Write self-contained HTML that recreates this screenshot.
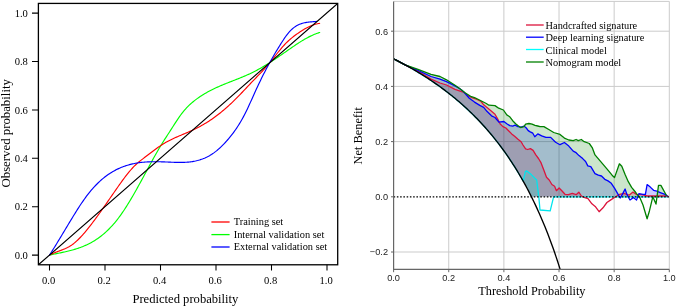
<!DOCTYPE html>
<html><head><meta charset="utf-8"><style>
html,body{margin:0;padding:0;background:#fff;width:676px;height:307px;overflow:hidden}
svg{display:block;will-change:transform}
</style></head><body>
<svg width="676" height="307" viewBox="0 0 676 307">
<defs>
<clipPath id="cl"><rect x="38.40" y="3.42" width="299.30" height="261.36"/></clipPath>
<clipPath id="cr"><path d="M393.60,58.80 L394.98,59.49 L396.36,60.19 L397.74,60.90 L399.11,61.62 L400.49,62.34 L401.87,63.07 L403.25,63.81 L404.63,64.55 L406.01,65.30 L407.38,66.06 L408.76,66.83 L410.14,67.61 L411.52,68.39 L412.90,69.19 L414.28,69.99 L415.66,70.80 L417.03,71.62 L418.41,72.45 L419.79,73.29 L421.17,74.13 L422.55,74.99 L423.93,75.86 L425.31,76.73 L426.68,77.62 L428.06,78.51 L429.44,79.42 L430.82,80.34 L432.20,81.27 L433.58,82.20 L434.96,83.15 L436.33,84.11 L437.71,85.09 L439.09,86.07 L440.47,87.07 L441.85,88.07 L443.23,89.09 L444.60,90.13 L445.98,91.17 L447.36,92.23 L448.74,93.30 L450.12,94.38 L451.50,95.48 L452.88,96.60 L454.25,97.72 L455.63,98.86 L457.01,100.02 L458.39,101.19 L459.77,102.38 L461.15,103.58 L462.52,104.80 L463.90,106.03 L465.28,107.29 L466.66,108.56 L468.04,109.84 L469.42,111.14 L470.80,112.47 L472.17,113.81 L473.55,115.17 L474.93,116.54 L476.31,117.94 L477.69,119.36 L479.07,120.80 L480.45,122.26 L481.82,123.74 L483.20,125.24 L484.58,126.77 L485.96,128.32 L487.34,129.89 L488.72,131.49 L490.10,133.11 L491.47,134.75 L492.85,136.42 L494.23,138.12 L495.61,139.85 L496.99,141.60 L498.37,143.38 L499.74,145.19 L501.12,147.03 L502.50,148.90 L503.88,150.80 L505.26,152.73 L506.64,154.70 L508.02,156.70 L509.39,158.73 L510.77,160.80 L512.15,162.91 L513.53,165.05 L514.91,167.23 L516.29,169.45 L517.66,171.71 L519.04,174.01 L520.42,176.36 L521.80,178.74 L523.18,181.18 L524.56,183.66 L525.94,186.18 L527.31,188.76 L528.69,191.39 L530.07,194.07 L531.45,196.80 L532.83,196.80 L534.21,196.80 L535.59,196.80 L536.96,196.80 L538.34,196.80 L539.72,196.80 L541.10,196.80 L542.48,196.80 L543.86,196.80 L545.24,196.80 L546.61,196.80 L547.99,196.80 L549.37,196.80 L550.75,196.80 L552.13,196.80 L553.51,196.80 L554.88,196.80 L556.26,196.80 L557.64,196.80 L559.02,196.80 L560.40,196.80 L561.78,196.80 L563.16,196.80 L564.53,196.80 L565.91,196.80 L567.29,196.80 L568.67,196.80 L570.05,196.80 L571.43,196.80 L572.80,196.80 L574.18,196.80 L575.56,196.80 L576.94,196.80 L578.32,196.80 L579.70,196.80 L581.08,196.80 L582.45,196.80 L583.83,196.80 L585.21,196.80 L586.59,196.80 L587.97,196.80 L589.35,196.80 L590.73,196.80 L592.10,196.80 L593.48,196.80 L594.86,196.80 L596.24,196.80 L597.62,196.80 L599.00,196.80 L600.38,196.80 L601.75,196.80 L603.13,196.80 L604.51,196.80 L605.89,196.80 L607.27,196.80 L608.65,196.80 L610.02,196.80 L611.40,196.80 L612.78,196.80 L614.16,196.80 L615.54,196.80 L616.92,196.80 L618.30,196.80 L619.67,196.80 L621.05,196.80 L622.43,196.80 L623.81,196.80 L625.19,196.80 L626.57,196.80 L627.94,196.80 L629.32,196.80 L630.70,196.80 L632.08,196.80 L633.46,196.80 L634.84,196.80 L636.22,196.80 L637.59,196.80 L638.97,196.80 L640.35,196.80 L641.73,196.80 L643.11,196.80 L644.49,196.80 L645.87,196.80 L647.24,196.80 L648.62,196.80 L650.00,196.80 L651.38,196.80 L652.76,196.80 L654.14,196.80 L655.51,196.80 L656.89,196.80 L658.27,196.80 L659.65,196.80 L661.03,196.80 L662.41,196.80 L663.79,196.80 L665.16,196.80 L666.54,196.80 L667.92,196.80 L669.30,196.80 L669.30,0.00 L393.60,0.00 Z"/></clipPath>
<clipPath id="cb"><rect x="393.60" y="1.40" width="275.70" height="268.00"/></clipPath>
</defs>
<rect width="676" height="307" fill="#fff"/>
<g clip-path="url(#cl)" fill="none" stroke-width="1.15" stroke-linejoin="round" stroke-linecap="round">
<path d="M49.50,255.10 L50.50,254.88 L51.50,254.67 L52.50,254.46 L53.50,254.25 L54.50,254.05 L55.50,253.84 L56.50,253.64 L57.50,253.43 L58.50,253.23 L59.50,253.02 L60.50,252.82 L61.50,252.61 L62.50,252.40 L63.50,252.18 L64.50,251.96 L65.50,251.74 L66.50,251.51 L67.50,251.27 L68.50,251.03 L69.50,250.79 L70.50,250.53 L71.50,250.27 L72.50,249.99 L73.50,249.71 L74.50,249.42 L75.50,249.12 L76.50,248.81 L77.50,248.48 L78.50,248.15 L79.50,247.80 L80.50,247.44 L81.50,247.06 L82.50,246.67 L83.50,246.26 L84.50,245.84 L85.50,245.40 L86.50,244.95 L87.50,244.48 L88.50,243.99 L89.50,243.48 L90.50,242.95 L91.50,242.40 L92.50,241.84 L93.50,241.25 L94.50,240.64 L95.50,240.00 L96.50,239.35 L97.50,238.67 L98.50,237.97 L99.50,237.24 L100.50,236.49 L101.50,235.71 L102.50,234.91 L103.50,234.08 L104.50,233.22 L105.50,232.34 L106.50,231.42 L107.50,230.48 L108.50,229.51 L109.50,228.50 L110.50,227.47 L111.50,226.40 L112.50,225.31 L113.50,224.18 L114.50,223.01 L115.50,221.81 L116.50,220.58 L117.50,219.32 L118.50,218.01 L119.50,216.68 L120.50,215.30 L121.50,213.89 L122.50,212.45 L123.50,210.97 L124.50,209.46 L125.50,207.92 L126.50,206.36 L127.50,204.76 L128.50,203.14 L129.50,201.50 L130.50,199.83 L131.50,198.15 L132.50,196.44 L133.50,194.71 L134.50,192.96 L135.50,191.20 L136.50,189.43 L137.50,187.64 L138.50,185.83 L139.50,184.02 L140.50,182.20 L141.50,180.37 L142.50,178.53 L143.50,176.69 L144.50,174.85 L145.50,173.00 L146.50,171.15 L147.50,169.30 L148.50,167.45 L149.50,165.61 L150.50,163.77 L151.50,161.94 L152.50,160.12 L153.50,158.31 L154.50,156.52 L155.50,154.73 L156.50,152.97 L157.50,151.22 L158.50,149.50 L159.50,147.80 L160.50,146.12 L161.50,144.47 L162.50,142.84 L163.50,141.25 L164.50,139.68 L165.50,138.12 L166.50,136.58 L167.50,135.05 L168.50,133.51 L169.50,131.97 L170.50,130.43 L171.50,128.87 L172.50,127.30 L173.50,125.73 L174.50,124.17 L175.50,122.62 L176.50,121.09 L177.50,119.59 L178.50,118.11 L179.50,116.67 L180.50,115.27 L181.50,113.93 L182.50,112.63 L183.50,111.39 L184.50,110.20 L185.50,109.06 L186.50,107.97 L187.50,106.92 L188.50,105.92 L189.50,104.95 L190.50,104.02 L191.50,103.13 L192.50,102.27 L193.50,101.44 L194.50,100.64 L195.50,99.87 L196.50,99.12 L197.50,98.39 L198.50,97.68 L199.50,96.99 L200.50,96.31 L201.50,95.66 L202.50,95.02 L203.50,94.40 L204.50,93.80 L205.50,93.21 L206.50,92.63 L207.50,92.07 L208.50,91.52 L209.50,90.99 L210.50,90.47 L211.50,89.96 L212.50,89.46 L213.50,88.97 L214.50,88.49 L215.50,88.03 L216.50,87.57 L217.50,87.12 L218.50,86.67 L219.50,86.24 L220.50,85.81 L221.50,85.38 L222.50,84.96 L223.50,84.55 L224.50,84.14 L225.50,83.74 L226.50,83.34 L227.50,82.94 L228.50,82.54 L229.50,82.15 L230.50,81.76 L231.50,81.36 L232.50,80.97 L233.50,80.58 L234.50,80.19 L235.50,79.80 L236.50,79.40 L237.50,79.01 L238.50,78.61 L239.50,78.21 L240.50,77.80 L241.50,77.39 L242.50,76.98 L243.50,76.56 L244.50,76.14 L245.50,75.70 L246.50,75.27 L247.50,74.82 L248.50,74.37 L249.50,73.91 L250.50,73.44 L251.50,72.96 L252.50,72.48 L253.50,71.98 L254.50,71.47 L255.50,70.95 L256.50,70.42 L257.50,69.88 L258.50,69.33 L259.50,68.78 L260.50,68.21 L261.50,67.63 L262.50,67.05 L263.50,66.45 L264.50,65.85 L265.50,65.24 L266.50,64.62 L267.50,64.00 L268.50,63.37 L269.50,62.73 L270.50,62.09 L271.50,61.44 L272.50,60.78 L273.50,60.12 L274.50,59.46 L275.50,58.79 L276.50,58.11 L277.50,57.44 L278.50,56.75 L279.50,56.07 L280.50,55.38 L281.50,54.69 L282.50,54.00 L283.50,53.30 L284.50,52.60 L285.50,51.91 L286.50,51.21 L287.50,50.51 L288.50,49.81 L289.50,49.11 L290.50,48.42 L291.50,47.73 L292.50,47.04 L293.50,46.35 L294.50,45.68 L295.50,45.00 L296.50,44.34 L297.50,43.68 L298.50,43.03 L299.50,42.39 L300.50,41.75 L301.50,41.13 L302.50,40.52 L303.50,39.92 L304.50,39.34 L305.50,38.76 L306.50,38.21 L307.50,37.66 L308.50,37.13 L309.50,36.62 L310.50,36.13 L311.50,35.65 L312.50,35.19 L313.50,34.75 L314.50,34.33 L315.50,33.93 L316.50,33.55 L317.50,33.20 L318.50,32.87 L319.50,32.56 L319.70,32.50" stroke="#00ff00"/>
<path d="M49.50,255.10 L50.50,254.58 L51.50,254.09 L52.50,253.62 L53.50,253.19 L54.50,252.77 L55.50,252.37 L56.50,251.99 L57.50,251.61 L58.50,251.24 L59.50,250.87 L60.50,250.50 L61.50,250.13 L62.50,249.74 L63.50,249.34 L64.50,248.92 L65.50,248.48 L66.50,248.01 L67.50,247.51 L68.50,246.98 L69.50,246.41 L70.50,245.80 L71.50,245.15 L72.50,244.44 L73.50,243.69 L74.50,242.89 L75.50,242.05 L76.50,241.16 L77.50,240.24 L78.50,239.27 L79.50,238.27 L80.50,237.23 L81.50,236.16 L82.50,235.06 L83.50,233.92 L84.50,232.77 L85.50,231.58 L86.50,230.38 L87.50,229.15 L88.50,227.90 L89.50,226.63 L90.50,225.35 L91.50,224.06 L92.50,222.75 L93.50,221.42 L94.50,220.09 L95.50,218.74 L96.50,217.38 L97.50,216.01 L98.50,214.63 L99.50,213.24 L100.50,211.84 L101.50,210.43 L102.50,209.02 L103.50,207.60 L104.50,206.17 L105.50,204.74 L106.50,203.31 L107.50,201.87 L108.50,200.43 L109.50,198.99 L110.50,197.54 L111.50,196.10 L112.50,194.65 L113.50,193.21 L114.50,191.77 L115.50,190.33 L116.50,188.89 L117.50,187.46 L118.50,186.03 L119.50,184.61 L120.50,183.21 L121.50,181.82 L122.50,180.44 L123.50,179.08 L124.50,177.74 L125.50,176.42 L126.50,175.13 L127.50,173.86 L128.50,172.63 L129.50,171.42 L130.50,170.25 L131.50,169.11 L132.50,168.01 L133.50,166.96 L134.50,165.94 L135.50,164.97 L136.50,164.04 L137.50,163.15 L138.50,162.30 L139.50,161.47 L140.50,160.66 L141.50,159.88 L142.50,159.10 L143.50,158.34 L144.50,157.57 L145.50,156.80 L146.50,156.03 L147.50,155.26 L148.50,154.49 L149.50,153.72 L150.50,152.95 L151.50,152.18 L152.50,151.42 L153.50,150.67 L154.50,149.92 L155.50,149.18 L156.50,148.46 L157.50,147.74 L158.50,147.04 L159.50,146.35 L160.50,145.68 L161.50,145.03 L162.50,144.40 L163.50,143.78 L164.50,143.18 L165.50,142.61 L166.50,142.04 L167.50,141.50 L168.50,140.97 L169.50,140.45 L170.50,139.95 L171.50,139.46 L172.50,138.98 L173.50,138.51 L174.50,138.05 L175.50,137.59 L176.50,137.15 L177.50,136.71 L178.50,136.27 L179.50,135.84 L180.50,135.42 L181.50,134.99 L182.50,134.57 L183.50,134.15 L184.50,133.72 L185.50,133.30 L186.50,132.87 L187.50,132.44 L188.50,132.00 L189.50,131.56 L190.50,131.11 L191.50,130.65 L192.50,130.19 L193.50,129.72 L194.50,129.24 L195.50,128.75 L196.50,128.25 L197.50,127.74 L198.50,127.22 L199.50,126.69 L200.50,126.15 L201.50,125.59 L202.50,125.03 L203.50,124.46 L204.50,123.87 L205.50,123.27 L206.50,122.66 L207.50,122.03 L208.50,121.40 L209.50,120.75 L210.50,120.08 L211.50,119.40 L212.50,118.71 L213.50,118.01 L214.50,117.29 L215.50,116.55 L216.50,115.81 L217.50,115.05 L218.50,114.28 L219.50,113.49 L220.50,112.69 L221.50,111.88 L222.50,111.06 L223.50,110.22 L224.50,109.37 L225.50,108.50 L226.50,107.63 L227.50,106.74 L228.50,105.84 L229.50,104.92 L230.50,103.99 L231.50,103.05 L232.50,102.10 L233.50,101.14 L234.50,100.16 L235.50,99.17 L236.50,98.17 L237.50,97.16 L238.50,96.14 L239.50,95.11 L240.50,94.07 L241.50,93.02 L242.50,91.98 L243.50,90.92 L244.50,89.86 L245.50,88.80 L246.50,87.74 L247.50,86.68 L248.50,85.62 L249.50,84.56 L250.50,83.50 L251.50,82.45 L252.50,81.40 L253.50,80.35 L254.50,79.31 L255.50,78.28 L256.50,77.25 L257.50,76.22 L258.50,75.19 L259.50,74.15 L260.50,73.11 L261.50,72.06 L262.50,71.00 L263.50,69.93 L264.50,68.83 L265.50,67.72 L266.50,66.59 L267.50,65.43 L268.50,64.25 L269.50,63.04 L270.50,61.81 L271.50,60.57 L272.50,59.31 L273.50,58.05 L274.50,56.78 L275.50,55.51 L276.50,54.25 L277.50,52.99 L278.50,51.75 L279.50,50.52 L280.50,49.31 L281.50,48.13 L282.50,46.97 L283.50,45.85 L284.50,44.76 L285.50,43.71 L286.50,42.70 L287.50,41.73 L288.50,40.79 L289.50,39.89 L290.50,39.01 L291.50,38.17 L292.50,37.35 L293.50,36.56 L294.50,35.79 L295.50,35.05 L296.50,34.32 L297.50,33.61 L298.50,32.92 L299.50,32.24 L300.50,31.58 L301.50,30.94 L302.50,30.32 L303.50,29.71 L304.50,29.12 L305.50,28.56 L306.50,28.01 L307.50,27.49 L308.50,27.00 L309.50,26.52 L310.50,26.07 L311.50,25.65 L312.50,25.26 L313.50,24.89 L314.50,24.56 L315.50,24.25 L316.50,23.97 L317.50,23.73 L318.50,23.51 L319.50,23.34 L319.70,23.30" stroke="#ff0000"/>
<path d="M49.50,255.10 L50.50,253.55 L51.50,251.98 L52.50,250.40 L53.50,248.80 L54.50,247.19 L55.50,245.58 L56.50,243.95 L57.50,242.31 L58.50,240.67 L59.50,239.02 L60.50,237.36 L61.50,235.70 L62.50,234.04 L63.50,232.37 L64.50,230.70 L65.50,229.04 L66.50,227.37 L67.50,225.70 L68.50,224.04 L69.50,222.38 L70.50,220.73 L71.50,219.08 L72.50,217.44 L73.50,215.81 L74.50,214.19 L75.50,212.58 L76.50,210.99 L77.50,209.41 L78.50,207.85 L79.50,206.31 L80.50,204.79 L81.50,203.29 L82.50,201.82 L83.50,200.37 L84.50,198.96 L85.50,197.57 L86.50,196.21 L87.50,194.89 L88.50,193.60 L89.50,192.35 L90.50,191.12 L91.50,189.94 L92.50,188.78 L93.50,187.66 L94.50,186.57 L95.50,185.51 L96.50,184.48 L97.50,183.48 L98.50,182.51 L99.50,181.57 L100.50,180.65 L101.50,179.77 L102.50,178.92 L103.50,178.09 L104.50,177.29 L105.50,176.51 L106.50,175.76 L107.50,175.04 L108.50,174.34 L109.50,173.67 L110.50,173.02 L111.50,172.39 L112.50,171.79 L113.50,171.21 L114.50,170.66 L115.50,170.12 L116.50,169.61 L117.50,169.11 L118.50,168.64 L119.50,168.19 L120.50,167.75 L121.50,167.34 L122.50,166.94 L123.50,166.56 L124.50,166.20 L125.50,165.86 L126.50,165.53 L127.50,165.22 L128.50,164.93 L129.50,164.65 L130.50,164.39 L131.50,164.14 L132.50,163.91 L133.50,163.69 L134.50,163.49 L135.50,163.29 L136.50,163.12 L137.50,162.95 L138.50,162.80 L139.50,162.66 L140.50,162.53 L141.50,162.41 L142.50,162.30 L143.50,162.21 L144.50,162.12 L145.50,162.04 L146.50,161.98 L147.50,161.92 L148.50,161.87 L149.50,161.82 L150.50,161.79 L151.50,161.76 L152.50,161.74 L153.50,161.73 L154.50,161.72 L155.50,161.72 L156.50,161.73 L157.50,161.74 L158.50,161.75 L159.50,161.77 L160.50,161.79 L161.50,161.82 L162.50,161.85 L163.50,161.88 L164.50,161.92 L165.50,161.95 L166.50,161.99 L167.50,162.03 L168.50,162.07 L169.50,162.12 L170.50,162.16 L171.50,162.20 L172.50,162.24 L173.50,162.28 L174.50,162.31 L175.50,162.35 L176.50,162.37 L177.50,162.40 L178.50,162.41 L179.50,162.42 L180.50,162.43 L181.50,162.42 L182.50,162.40 L183.50,162.38 L184.50,162.34 L185.50,162.30 L186.50,162.24 L187.50,162.16 L188.50,162.08 L189.50,161.98 L190.50,161.86 L191.50,161.73 L192.50,161.58 L193.50,161.41 L194.50,161.22 L195.50,161.02 L196.50,160.79 L197.50,160.55 L198.50,160.28 L199.50,159.99 L200.50,159.67 L201.50,159.33 L202.50,158.97 L203.50,158.58 L204.50,158.17 L205.50,157.72 L206.50,157.25 L207.50,156.75 L208.50,156.22 L209.50,155.66 L210.50,155.07 L211.50,154.45 L212.50,153.79 L213.50,153.10 L214.50,152.37 L215.50,151.62 L216.50,150.83 L217.50,150.00 L218.50,149.14 L219.50,148.26 L220.50,147.33 L221.50,146.38 L222.50,145.39 L223.50,144.38 L224.50,143.33 L225.50,142.25 L226.50,141.14 L227.50,140.00 L228.50,138.84 L229.50,137.64 L230.50,136.41 L231.50,135.15 L232.50,133.86 L233.50,132.53 L234.50,131.16 L235.50,129.75 L236.50,128.30 L237.50,126.79 L238.50,125.24 L239.50,123.64 L240.50,121.97 L241.50,120.25 L242.50,118.47 L243.50,116.62 L244.50,114.71 L245.50,112.74 L246.50,110.72 L247.50,108.63 L248.50,106.50 L249.50,104.33 L250.50,102.12 L251.50,99.90 L252.50,97.66 L253.50,95.44 L254.50,93.22 L255.50,91.03 L256.50,88.86 L257.50,86.72 L258.50,84.59 L259.50,82.50 L260.50,80.42 L261.50,78.37 L262.50,76.35 L263.50,74.36 L264.50,72.39 L265.50,70.45 L266.50,68.54 L267.50,66.66 L268.50,64.81 L269.50,62.99 L270.50,61.20 L271.50,59.43 L272.50,57.68 L273.50,55.96 L274.50,54.26 L275.50,52.58 L276.50,50.91 L277.50,49.26 L278.50,47.63 L279.50,46.01 L280.50,44.40 L281.50,42.80 L282.50,41.23 L283.50,39.69 L284.50,38.19 L285.50,36.75 L286.50,35.36 L287.50,34.04 L288.50,32.80 L289.50,31.65 L290.50,30.59 L291.50,29.61 L292.50,28.70 L293.50,27.88 L294.50,27.13 L295.50,26.44 L296.50,25.82 L297.50,25.27 L298.50,24.77 L299.50,24.32 L300.50,23.92 L301.50,23.58 L302.50,23.27 L303.50,23.00 L304.50,22.77 L305.50,22.57 L306.50,22.40 L307.50,22.25 L308.50,22.12 L309.50,22.01 L310.50,21.92 L311.50,21.83 L312.50,21.75 L313.50,21.67 L314.50,21.59 L315.50,21.50 L316.50,21.41" stroke="#0000ff"/>
<path d="M38.40,264.78 L337.70,3.42" stroke="#000" stroke-width="1.15"/>
</g>
<rect x="38.40" y="3.42" width="299.30" height="261.36" fill="none" stroke="#000" stroke-width="1.3"/>
<path d="M32.00,255.10 H38.40 M49.50,264.78 V270.58 M32.00,206.70 H38.40 M105.00,264.78 V270.58 M32.00,158.30 H38.40 M160.50,264.78 V270.58 M32.00,109.90 H38.40 M216.00,264.78 V270.58 M32.00,61.50 H38.40 M271.50,264.78 V270.58 M32.00,13.10 H38.40 M327.00,264.78 V270.58" stroke="#000" stroke-width="1.05" fill="none"/>
<g style="font-family:'Liberation Serif',serif;font-size:10.6px" fill="#000">
<text x="27.9" y="258.70" text-anchor="end">0.0</text>
<text x="48.70" y="284.4" text-anchor="middle">0.0</text>
<text x="27.9" y="210.30" text-anchor="end">0.2</text>
<text x="104.20" y="284.4" text-anchor="middle">0.2</text>
<text x="27.9" y="161.90" text-anchor="end">0.4</text>
<text x="159.70" y="284.4" text-anchor="middle">0.4</text>
<text x="27.9" y="113.50" text-anchor="end">0.6</text>
<text x="215.20" y="284.4" text-anchor="middle">0.6</text>
<text x="27.9" y="65.10" text-anchor="end">0.8</text>
<text x="270.70" y="284.4" text-anchor="middle">0.8</text>
<text x="27.9" y="16.70" text-anchor="end">1.0</text>
<text x="326.20" y="284.4" text-anchor="middle">1.0</text>
</g>
<text x="185.4" y="303.1" text-anchor="middle" style="font-family:'Liberation Serif',serif;font-size:12.6px">Predicted probability</text>
<text transform="translate(9.8,133.3) rotate(-90)" text-anchor="middle" style="font-family:'Liberation Serif',serif;font-size:12.8px">Observed probability</text>
<g stroke-width="1.3">
<path d="M211.4,222 H229.6" stroke="#ff0000"/>
<path d="M211.4,234.6 H229.6" stroke="#00ff00"/>
<path d="M211.4,247 H229.6" stroke="#0000ff"/>
</g>
<g style="font-family:'Liberation Serif',serif;font-size:10.4px" fill="#000">
<text x="233.7" y="225.4">Training set</text>
<text x="233.7" y="238">Internal validation set</text>
<text x="233.7" y="250.4">External validation set</text>
</g>
<path d="M448.74,1.40 V269.40 M503.88,1.40 V269.40 M559.02,1.40 V269.40 M614.16,1.40 V269.40 M669.30,1.40 V269.40 M393.60,31.20 H669.30 M393.60,86.40 H669.30 M393.60,141.60 H669.30 M393.60,252.00 H669.30 M393.60,1.40 H669.30" stroke="#cbcbcb" stroke-width="1" fill="none"/>
<g clip-path="url(#cr)" stroke="none">
<path d="M393.60,58.80 L405.00,64.80 L418.00,71.30 L431.00,79.10 L440.00,83.00 L446.50,85.00 L455.00,89.40 L460.20,91.10 L464.10,92.40 L468.00,95.60 L471.90,97.60 L477.10,99.50 L481.10,101.50 L483.70,104.80 L487.60,108.00 L491.50,111.30 L495.00,114.20 L497.60,118.90 L500.00,123.70 L502.90,126.60 L505.90,128.00 L508.80,131.00 L511.70,133.90 L514.60,136.30 L518.00,139.30 L521.10,141.70 L523.00,145.00 L525.60,148.90 L527.70,149.50 L530.40,148.60 L533.10,150.40 L535.80,154.90 L538.50,158.50 L541.10,162.90 L543.80,170.10 L546.50,177.30 L549.20,180.00 L551.90,184.50 L554.60,186.30 L556.40,190.70 L559.10,188.00 L561.80,190.70 L565.00,194.30 L568.40,194.70 L572.30,193.40 L576.20,194.70 L578.80,192.10 L581.40,196.00 L584.10,197.30 L588.00,198.60 L591.90,203.80 L595.20,206.40 L599.10,211.70 L603.00,207.80 L606.90,202.50 L610.80,199.90 L614.80,197.30 L618.70,194.70 L623.90,193.40 L629.10,195.20 L633.00,192.10 L636.90,194.70 L642.10,194.70 L647.00,196.00 L652.50,196.00 L668.20,196.00 L669.30,196.80 L667.92,196.80 L666.54,196.80 L665.16,196.80 L663.79,196.80 L662.41,196.80 L661.03,196.80 L659.65,196.80 L658.27,196.80 L656.89,196.80 L655.51,196.80 L654.14,196.80 L652.76,196.80 L651.38,196.80 L650.00,196.80 L648.62,196.80 L647.24,196.80 L645.87,196.80 L644.49,196.80 L643.11,196.80 L641.73,196.80 L640.35,196.80 L638.97,196.80 L637.59,196.80 L636.22,196.80 L634.84,196.80 L633.46,196.80 L632.08,196.80 L630.70,196.80 L629.32,196.80 L627.94,196.80 L626.57,196.80 L625.19,196.80 L623.81,196.80 L622.43,196.80 L621.05,196.80 L619.67,196.80 L618.30,196.80 L616.92,196.80 L615.54,196.80 L614.16,196.80 L612.78,196.80 L611.40,196.80 L610.02,196.80 L608.65,196.80 L607.27,196.80 L605.89,196.80 L604.51,196.80 L603.13,196.80 L601.75,196.80 L600.38,196.80 L599.00,196.80 L597.62,196.80 L596.24,196.80 L594.86,196.80 L593.48,196.80 L592.10,196.80 L590.73,196.80 L589.35,196.80 L587.97,196.80 L586.59,196.80 L585.21,196.80 L583.83,196.80 L582.45,196.80 L581.08,196.80 L579.70,196.80 L578.32,196.80 L576.94,196.80 L575.56,196.80 L574.18,196.80 L572.80,196.80 L571.43,196.80 L570.05,196.80 L568.67,196.80 L567.29,196.80 L565.91,196.80 L564.53,196.80 L563.16,196.80 L561.78,196.80 L560.40,196.80 L559.02,196.80 L557.64,196.80 L556.26,196.80 L554.88,196.80 L553.51,196.80 L552.13,196.80 L550.75,196.80 L549.37,196.80 L547.99,196.80 L546.61,196.80 L545.24,196.80 L543.86,196.80 L542.48,196.80 L541.10,196.80 L539.72,196.80 L538.34,196.80 L536.96,196.80 L535.59,196.80 L534.21,196.80 L532.83,196.80 L531.45,196.80 L530.07,194.07 L528.69,191.39 L527.31,188.76 L525.94,186.18 L524.56,183.66 L523.18,181.18 L521.80,178.74 L520.42,176.36 L519.04,174.01 L517.66,171.71 L516.29,169.45 L514.91,167.23 L513.53,165.05 L512.15,162.91 L510.77,160.80 L509.39,158.73 L508.02,156.70 L506.64,154.70 L505.26,152.73 L503.88,150.80 L502.50,148.90 L501.12,147.03 L499.74,145.19 L498.37,143.38 L496.99,141.60 L495.61,139.85 L494.23,138.12 L492.85,136.42 L491.47,134.75 L490.10,133.11 L488.72,131.49 L487.34,129.89 L485.96,128.32 L484.58,126.77 L483.20,125.24 L481.82,123.74 L480.45,122.26 L479.07,120.80 L477.69,119.36 L476.31,117.94 L474.93,116.54 L473.55,115.17 L472.17,113.81 L470.80,112.47 L469.42,111.14 L468.04,109.84 L466.66,108.56 L465.28,107.29 L463.90,106.03 L462.52,104.80 L461.15,103.58 L459.77,102.38 L458.39,101.19 L457.01,100.02 L455.63,98.86 L454.25,97.72 L452.88,96.60 L451.50,95.48 L450.12,94.38 L448.74,93.30 L447.36,92.23 L445.98,91.17 L444.60,90.13 L443.23,89.09 L441.85,88.07 L440.47,87.07 L439.09,86.07 L437.71,85.09 L436.33,84.11 L434.96,83.15 L433.58,82.20 L432.20,81.27 L430.82,80.34 L429.44,79.42 L428.06,78.51 L426.68,77.62 L425.31,76.73 L423.93,75.86 L422.55,74.99 L421.17,74.13 L419.79,73.29 L418.41,72.45 L417.03,71.62 L415.66,70.80 L414.28,69.99 L412.90,69.19 L411.52,68.39 L410.14,67.61 L408.76,66.83 L407.38,66.06 L406.01,65.30 L404.63,64.55 L403.25,63.81 L401.87,63.07 L400.49,62.34 L399.11,61.62 L397.74,60.90 L396.36,60.19 L394.98,59.49 L393.60,58.80 Z" fill="#dc143c" fill-opacity="0.2"/>
<path d="M393.60,58.80 L405.00,64.80 L418.00,70.40 L431.00,76.50 L440.00,79.10 L446.50,81.70 L455.00,85.90 L458.90,88.10 L462.80,91.10 L465.40,93.70 L469.30,98.20 L474.50,102.10 L479.80,105.40 L483.70,107.40 L486.90,111.30 L491.50,115.80 L495.00,117.50 L498.90,122.20 L503.90,121.50 L506.80,123.70 L509.80,125.60 L512.70,126.10 L515.10,125.10 L518.00,126.60 L521.00,127.10 L524.00,126.10 L526.30,128.00 L528.20,130.60 L530.20,131.90 L532.80,133.20 L534.80,136.80 L537.80,133.90 L541.70,135.80 L545.90,137.40 L550.70,137.40 L555.60,142.20 L560.00,144.70 L564.40,142.50 L568.80,146.10 L573.20,151.20 L576.10,152.70 L579.00,155.60 L582.70,158.60 L585.60,161.50 L587.80,165.90 L590.80,166.60 L595.00,173.60 L598.30,175.20 L601.50,176.00 L604.80,179.30 L608.00,180.90 L611.30,183.30 L614.50,188.20 L617.80,193.90 L620.20,198.00 L622.60,193.90 L625.10,189.00 L626.70,193.90 L628.50,197.50 L630.00,200.00 L633.30,197.60 L636.50,200.00 L639.00,193.60 L643.00,194.40 L645.40,194.40 L647.10,184.60 L650.30,187.10 L653.60,190.30 L656.80,191.10 L660.90,192.80 L665.00,194.40 L667.40,195.90 L669.30,196.80 L667.92,196.80 L666.54,196.80 L665.16,196.80 L663.79,196.80 L662.41,196.80 L661.03,196.80 L659.65,196.80 L658.27,196.80 L656.89,196.80 L655.51,196.80 L654.14,196.80 L652.76,196.80 L651.38,196.80 L650.00,196.80 L648.62,196.80 L647.24,196.80 L645.87,196.80 L644.49,196.80 L643.11,196.80 L641.73,196.80 L640.35,196.80 L638.97,196.80 L637.59,196.80 L636.22,196.80 L634.84,196.80 L633.46,196.80 L632.08,196.80 L630.70,196.80 L629.32,196.80 L627.94,196.80 L626.57,196.80 L625.19,196.80 L623.81,196.80 L622.43,196.80 L621.05,196.80 L619.67,196.80 L618.30,196.80 L616.92,196.80 L615.54,196.80 L614.16,196.80 L612.78,196.80 L611.40,196.80 L610.02,196.80 L608.65,196.80 L607.27,196.80 L605.89,196.80 L604.51,196.80 L603.13,196.80 L601.75,196.80 L600.38,196.80 L599.00,196.80 L597.62,196.80 L596.24,196.80 L594.86,196.80 L593.48,196.80 L592.10,196.80 L590.73,196.80 L589.35,196.80 L587.97,196.80 L586.59,196.80 L585.21,196.80 L583.83,196.80 L582.45,196.80 L581.08,196.80 L579.70,196.80 L578.32,196.80 L576.94,196.80 L575.56,196.80 L574.18,196.80 L572.80,196.80 L571.43,196.80 L570.05,196.80 L568.67,196.80 L567.29,196.80 L565.91,196.80 L564.53,196.80 L563.16,196.80 L561.78,196.80 L560.40,196.80 L559.02,196.80 L557.64,196.80 L556.26,196.80 L554.88,196.80 L553.51,196.80 L552.13,196.80 L550.75,196.80 L549.37,196.80 L547.99,196.80 L546.61,196.80 L545.24,196.80 L543.86,196.80 L542.48,196.80 L541.10,196.80 L539.72,196.80 L538.34,196.80 L536.96,196.80 L535.59,196.80 L534.21,196.80 L532.83,196.80 L531.45,196.80 L530.07,194.07 L528.69,191.39 L527.31,188.76 L525.94,186.18 L524.56,183.66 L523.18,181.18 L521.80,178.74 L520.42,176.36 L519.04,174.01 L517.66,171.71 L516.29,169.45 L514.91,167.23 L513.53,165.05 L512.15,162.91 L510.77,160.80 L509.39,158.73 L508.02,156.70 L506.64,154.70 L505.26,152.73 L503.88,150.80 L502.50,148.90 L501.12,147.03 L499.74,145.19 L498.37,143.38 L496.99,141.60 L495.61,139.85 L494.23,138.12 L492.85,136.42 L491.47,134.75 L490.10,133.11 L488.72,131.49 L487.34,129.89 L485.96,128.32 L484.58,126.77 L483.20,125.24 L481.82,123.74 L480.45,122.26 L479.07,120.80 L477.69,119.36 L476.31,117.94 L474.93,116.54 L473.55,115.17 L472.17,113.81 L470.80,112.47 L469.42,111.14 L468.04,109.84 L466.66,108.56 L465.28,107.29 L463.90,106.03 L462.52,104.80 L461.15,103.58 L459.77,102.38 L458.39,101.19 L457.01,100.02 L455.63,98.86 L454.25,97.72 L452.88,96.60 L451.50,95.48 L450.12,94.38 L448.74,93.30 L447.36,92.23 L445.98,91.17 L444.60,90.13 L443.23,89.09 L441.85,88.07 L440.47,87.07 L439.09,86.07 L437.71,85.09 L436.33,84.11 L434.96,83.15 L433.58,82.20 L432.20,81.27 L430.82,80.34 L429.44,79.42 L428.06,78.51 L426.68,77.62 L425.31,76.73 L423.93,75.86 L422.55,74.99 L421.17,74.13 L419.79,73.29 L418.41,72.45 L417.03,71.62 L415.66,70.80 L414.28,69.99 L412.90,69.19 L411.52,68.39 L410.14,67.61 L408.76,66.83 L407.38,66.06 L406.01,65.30 L404.63,64.55 L403.25,63.81 L401.87,63.07 L400.49,62.34 L399.11,61.62 L397.74,60.90 L396.36,60.19 L394.98,59.49 L393.60,58.80 Z" fill="#0000ff" fill-opacity="0.2"/>
<path d="M393.60,58.80 L396.84,60.44 L400.08,62.12 L403.32,63.84 L406.56,65.61 L409.80,67.41 L413.04,69.27 L416.28,71.17 L419.52,73.12 L422.76,75.12 L425.99,77.17 L429.23,79.28 L432.47,81.45 L435.71,83.68 L438.95,85.97 L442.19,88.33 L445.43,90.75 L448.67,93.25 L451.91,95.82 L455.15,98.46 L458.39,101.19 L461.63,104.01 L464.87,106.91 L468.11,109.91 L471.35,113.00 L474.59,116.20 L477.83,119.50 L481.07,122.92 L484.31,126.46 L487.54,130.13 L490.78,133.93 L494.02,137.87 L497.26,141.95 L500.50,146.20 L503.74,150.61 L506.98,155.19 L510.22,159.97 L513.46,164.94 L516.70,170.12 L519.94,175.53 L523.18,181.18 L525.40,171.30 L526.80,171.00 L531.30,174.60 L536.70,180.00 L538.80,196.80 L540.00,210.00 L550.20,210.90 L553.60,196.80 L668.20,196.80 L669.30,196.80 L667.92,196.80 L666.54,196.80 L665.16,196.80 L663.79,196.80 L662.41,196.80 L661.03,196.80 L659.65,196.80 L658.27,196.80 L656.89,196.80 L655.51,196.80 L654.14,196.80 L652.76,196.80 L651.38,196.80 L650.00,196.80 L648.62,196.80 L647.24,196.80 L645.87,196.80 L644.49,196.80 L643.11,196.80 L641.73,196.80 L640.35,196.80 L638.97,196.80 L637.59,196.80 L636.22,196.80 L634.84,196.80 L633.46,196.80 L632.08,196.80 L630.70,196.80 L629.32,196.80 L627.94,196.80 L626.57,196.80 L625.19,196.80 L623.81,196.80 L622.43,196.80 L621.05,196.80 L619.67,196.80 L618.30,196.80 L616.92,196.80 L615.54,196.80 L614.16,196.80 L612.78,196.80 L611.40,196.80 L610.02,196.80 L608.65,196.80 L607.27,196.80 L605.89,196.80 L604.51,196.80 L603.13,196.80 L601.75,196.80 L600.38,196.80 L599.00,196.80 L597.62,196.80 L596.24,196.80 L594.86,196.80 L593.48,196.80 L592.10,196.80 L590.73,196.80 L589.35,196.80 L587.97,196.80 L586.59,196.80 L585.21,196.80 L583.83,196.80 L582.45,196.80 L581.08,196.80 L579.70,196.80 L578.32,196.80 L576.94,196.80 L575.56,196.80 L574.18,196.80 L572.80,196.80 L571.43,196.80 L570.05,196.80 L568.67,196.80 L567.29,196.80 L565.91,196.80 L564.53,196.80 L563.16,196.80 L561.78,196.80 L560.40,196.80 L559.02,196.80 L557.64,196.80 L556.26,196.80 L554.88,196.80 L553.51,196.80 L552.13,196.80 L550.75,196.80 L549.37,196.80 L547.99,196.80 L546.61,196.80 L545.24,196.80 L543.86,196.80 L542.48,196.80 L541.10,196.80 L539.72,196.80 L538.34,196.80 L536.96,196.80 L535.59,196.80 L534.21,196.80 L532.83,196.80 L531.45,196.80 L530.07,194.07 L528.69,191.39 L527.31,188.76 L525.94,186.18 L524.56,183.66 L523.18,181.18 L521.80,178.74 L520.42,176.36 L519.04,174.01 L517.66,171.71 L516.29,169.45 L514.91,167.23 L513.53,165.05 L512.15,162.91 L510.77,160.80 L509.39,158.73 L508.02,156.70 L506.64,154.70 L505.26,152.73 L503.88,150.80 L502.50,148.90 L501.12,147.03 L499.74,145.19 L498.37,143.38 L496.99,141.60 L495.61,139.85 L494.23,138.12 L492.85,136.42 L491.47,134.75 L490.10,133.11 L488.72,131.49 L487.34,129.89 L485.96,128.32 L484.58,126.77 L483.20,125.24 L481.82,123.74 L480.45,122.26 L479.07,120.80 L477.69,119.36 L476.31,117.94 L474.93,116.54 L473.55,115.17 L472.17,113.81 L470.80,112.47 L469.42,111.14 L468.04,109.84 L466.66,108.56 L465.28,107.29 L463.90,106.03 L462.52,104.80 L461.15,103.58 L459.77,102.38 L458.39,101.19 L457.01,100.02 L455.63,98.86 L454.25,97.72 L452.88,96.60 L451.50,95.48 L450.12,94.38 L448.74,93.30 L447.36,92.23 L445.98,91.17 L444.60,90.13 L443.23,89.09 L441.85,88.07 L440.47,87.07 L439.09,86.07 L437.71,85.09 L436.33,84.11 L434.96,83.15 L433.58,82.20 L432.20,81.27 L430.82,80.34 L429.44,79.42 L428.06,78.51 L426.68,77.62 L425.31,76.73 L423.93,75.86 L422.55,74.99 L421.17,74.13 L419.79,73.29 L418.41,72.45 L417.03,71.62 L415.66,70.80 L414.28,69.99 L412.90,69.19 L411.52,68.39 L410.14,67.61 L408.76,66.83 L407.38,66.06 L406.01,65.30 L404.63,64.55 L403.25,63.81 L401.87,63.07 L400.49,62.34 L399.11,61.62 L397.74,60.90 L396.36,60.19 L394.98,59.49 L393.60,58.80 Z" fill="#00ffff" fill-opacity="0.2"/>
<path d="M393.60,58.80 L405.00,64.80 L418.00,69.30 L431.00,74.30 L440.00,76.50 L446.50,79.80 L455.00,85.30 L460.20,89.10 L465.40,93.00 L470.60,96.30 L474.50,97.60 L478.50,99.50 L482.40,101.50 L486.30,103.50 L488.90,105.20 L495.00,105.60 L498.70,108.20 L503.40,110.00 L506.80,114.90 L509.80,116.80 L512.70,120.70 L515.60,123.70 L518.50,126.10 L520.50,127.60 L524.00,126.60 L525.60,124.10 L528.90,123.50 L532.10,124.10 L535.00,125.40 L537.80,126.00 L540.00,126.60 L543.90,126.60 L548.80,129.50 L553.70,132.50 L560.00,134.40 L564.40,138.10 L568.80,140.00 L573.20,140.60 L576.10,139.50 L578.30,140.60 L581.30,139.50 L584.20,141.70 L589.30,143.50 L592.20,147.60 L595.00,154.90 L599.90,160.60 L604.80,166.30 L608.80,171.10 L612.10,175.20 L614.50,177.60 L619.40,163.80 L621.80,166.30 L625.10,174.40 L628.30,181.70 L631.60,187.40 L635.00,191.50 L636.50,193.60 L639.80,197.60 L643.00,205.00 L647.10,218.80 L649.50,210.70 L652.80,196.80 L656.00,204.10 L658.50,185.40 L660.90,185.40 L666.60,195.80 L669.30,196.80 L667.92,196.80 L666.54,196.80 L665.16,196.80 L663.79,196.80 L662.41,196.80 L661.03,196.80 L659.65,196.80 L658.27,196.80 L656.89,196.80 L655.51,196.80 L654.14,196.80 L652.76,196.80 L651.38,196.80 L650.00,196.80 L648.62,196.80 L647.24,196.80 L645.87,196.80 L644.49,196.80 L643.11,196.80 L641.73,196.80 L640.35,196.80 L638.97,196.80 L637.59,196.80 L636.22,196.80 L634.84,196.80 L633.46,196.80 L632.08,196.80 L630.70,196.80 L629.32,196.80 L627.94,196.80 L626.57,196.80 L625.19,196.80 L623.81,196.80 L622.43,196.80 L621.05,196.80 L619.67,196.80 L618.30,196.80 L616.92,196.80 L615.54,196.80 L614.16,196.80 L612.78,196.80 L611.40,196.80 L610.02,196.80 L608.65,196.80 L607.27,196.80 L605.89,196.80 L604.51,196.80 L603.13,196.80 L601.75,196.80 L600.38,196.80 L599.00,196.80 L597.62,196.80 L596.24,196.80 L594.86,196.80 L593.48,196.80 L592.10,196.80 L590.73,196.80 L589.35,196.80 L587.97,196.80 L586.59,196.80 L585.21,196.80 L583.83,196.80 L582.45,196.80 L581.08,196.80 L579.70,196.80 L578.32,196.80 L576.94,196.80 L575.56,196.80 L574.18,196.80 L572.80,196.80 L571.43,196.80 L570.05,196.80 L568.67,196.80 L567.29,196.80 L565.91,196.80 L564.53,196.80 L563.16,196.80 L561.78,196.80 L560.40,196.80 L559.02,196.80 L557.64,196.80 L556.26,196.80 L554.88,196.80 L553.51,196.80 L552.13,196.80 L550.75,196.80 L549.37,196.80 L547.99,196.80 L546.61,196.80 L545.24,196.80 L543.86,196.80 L542.48,196.80 L541.10,196.80 L539.72,196.80 L538.34,196.80 L536.96,196.80 L535.59,196.80 L534.21,196.80 L532.83,196.80 L531.45,196.80 L530.07,194.07 L528.69,191.39 L527.31,188.76 L525.94,186.18 L524.56,183.66 L523.18,181.18 L521.80,178.74 L520.42,176.36 L519.04,174.01 L517.66,171.71 L516.29,169.45 L514.91,167.23 L513.53,165.05 L512.15,162.91 L510.77,160.80 L509.39,158.73 L508.02,156.70 L506.64,154.70 L505.26,152.73 L503.88,150.80 L502.50,148.90 L501.12,147.03 L499.74,145.19 L498.37,143.38 L496.99,141.60 L495.61,139.85 L494.23,138.12 L492.85,136.42 L491.47,134.75 L490.10,133.11 L488.72,131.49 L487.34,129.89 L485.96,128.32 L484.58,126.77 L483.20,125.24 L481.82,123.74 L480.45,122.26 L479.07,120.80 L477.69,119.36 L476.31,117.94 L474.93,116.54 L473.55,115.17 L472.17,113.81 L470.80,112.47 L469.42,111.14 L468.04,109.84 L466.66,108.56 L465.28,107.29 L463.90,106.03 L462.52,104.80 L461.15,103.58 L459.77,102.38 L458.39,101.19 L457.01,100.02 L455.63,98.86 L454.25,97.72 L452.88,96.60 L451.50,95.48 L450.12,94.38 L448.74,93.30 L447.36,92.23 L445.98,91.17 L444.60,90.13 L443.23,89.09 L441.85,88.07 L440.47,87.07 L439.09,86.07 L437.71,85.09 L436.33,84.11 L434.96,83.15 L433.58,82.20 L432.20,81.27 L430.82,80.34 L429.44,79.42 L428.06,78.51 L426.68,77.62 L425.31,76.73 L423.93,75.86 L422.55,74.99 L421.17,74.13 L419.79,73.29 L418.41,72.45 L417.03,71.62 L415.66,70.80 L414.28,69.99 L412.90,69.19 L411.52,68.39 L410.14,67.61 L408.76,66.83 L407.38,66.06 L406.01,65.30 L404.63,64.55 L403.25,63.81 L401.87,63.07 L400.49,62.34 L399.11,61.62 L397.74,60.90 L396.36,60.19 L394.98,59.49 L393.60,58.80 Z" fill="#008000" fill-opacity="0.2"/>
</g>
<g clip-path="url(#cb)" fill="none" stroke-width="1.3" stroke-linejoin="round">
<path d="M393.60,58.80 L396.84,60.44 L400.08,62.12 L403.32,63.84 L406.56,65.61 L409.80,67.41 L413.04,69.27 L416.28,71.17 L419.52,73.12 L422.76,75.12 L425.99,77.17 L429.23,79.28 L432.47,81.45 L435.71,83.68 L438.95,85.97 L442.19,88.33 L445.43,90.75 L448.67,93.25 L451.91,95.82 L455.15,98.46 L458.39,101.19 L461.63,104.01 L464.87,106.91 L468.11,109.91 L471.35,113.00 L474.59,116.20 L477.83,119.50 L481.07,122.92 L484.31,126.46 L487.54,130.13 L490.78,133.93 L494.02,137.87 L497.26,141.95 L500.50,146.20 L503.74,150.61 L506.98,155.19 L510.22,159.97 L513.46,164.94 L516.70,170.12 L519.94,175.53 L523.18,181.18 L525.40,171.30 L526.80,171.00 L531.30,174.60 L536.70,180.00 L538.80,196.80 L540.00,210.00 L550.20,210.90 L553.60,196.80 L668.20,196.80" stroke="#00e5ee"/>
<path d="M393.60,58.80 L405.00,64.80 L418.00,71.30 L431.00,79.10 L440.00,83.00 L446.50,85.00 L455.00,89.40 L460.20,91.10 L464.10,92.40 L468.00,95.60 L471.90,97.60 L477.10,99.50 L481.10,101.50 L483.70,104.80 L487.60,108.00 L491.50,111.30 L495.00,114.20 L497.60,118.90 L500.00,123.70 L502.90,126.60 L505.90,128.00 L508.80,131.00 L511.70,133.90 L514.60,136.30 L518.00,139.30 L521.10,141.70 L523.00,145.00 L525.60,148.90 L527.70,149.50 L530.40,148.60 L533.10,150.40 L535.80,154.90 L538.50,158.50 L541.10,162.90 L543.80,170.10 L546.50,177.30 L549.20,180.00 L551.90,184.50 L554.60,186.30 L556.40,190.70 L559.10,188.00 L561.80,190.70 L565.00,194.30 L568.40,194.70 L572.30,193.40 L576.20,194.70 L578.80,192.10 L581.40,196.00 L584.10,197.30 L588.00,198.60 L591.90,203.80 L595.20,206.40 L599.10,211.70 L603.00,207.80 L606.90,202.50 L610.80,199.90 L614.80,197.30 L618.70,194.70 L623.90,193.40 L629.10,195.20 L633.00,192.10 L636.90,194.70 L642.10,194.70 L647.00,196.00 L652.50,196.00 L668.20,196.00" stroke="#dc143c"/>
<path d="M393.60,58.80 L405.00,64.80 L418.00,70.40 L431.00,76.50 L440.00,79.10 L446.50,81.70 L455.00,85.90 L458.90,88.10 L462.80,91.10 L465.40,93.70 L469.30,98.20 L474.50,102.10 L479.80,105.40 L483.70,107.40 L486.90,111.30 L491.50,115.80 L495.00,117.50 L498.90,122.20 L503.90,121.50 L506.80,123.70 L509.80,125.60 L512.70,126.10 L515.10,125.10 L518.00,126.60 L521.00,127.10 L524.00,126.10 L526.30,128.00 L528.20,130.60 L530.20,131.90 L532.80,133.20 L534.80,136.80 L537.80,133.90 L541.70,135.80 L545.90,137.40 L550.70,137.40 L555.60,142.20 L560.00,144.70 L564.40,142.50 L568.80,146.10 L573.20,151.20 L576.10,152.70 L579.00,155.60 L582.70,158.60 L585.60,161.50 L587.80,165.90 L590.80,166.60 L595.00,173.60 L598.30,175.20 L601.50,176.00 L604.80,179.30 L608.00,180.90 L611.30,183.30 L614.50,188.20 L617.80,193.90 L620.20,198.00 L622.60,193.90 L625.10,189.00 L626.70,193.90 L628.50,197.50 L630.00,200.00 L633.30,197.60 L636.50,200.00 L639.00,193.60 L643.00,194.40 L645.40,194.40 L647.10,184.60 L650.30,187.10 L653.60,190.30 L656.80,191.10 L660.90,192.80 L665.00,194.40 L667.40,195.90" stroke="#0000ff"/>
<path d="M393.60,58.80 L405.00,64.80 L418.00,69.30 L431.00,74.30 L440.00,76.50 L446.50,79.80 L455.00,85.30 L460.20,89.10 L465.40,93.00 L470.60,96.30 L474.50,97.60 L478.50,99.50 L482.40,101.50 L486.30,103.50 L488.90,105.20 L495.00,105.60 L498.70,108.20 L503.40,110.00 L506.80,114.90 L509.80,116.80 L512.70,120.70 L515.60,123.70 L518.50,126.10 L520.50,127.60 L524.00,126.60 L525.60,124.10 L528.90,123.50 L532.10,124.10 L535.00,125.40 L537.80,126.00 L540.00,126.60 L543.90,126.60 L548.80,129.50 L553.70,132.50 L560.00,134.40 L564.40,138.10 L568.80,140.00 L573.20,140.60 L576.10,139.50 L578.30,140.60 L581.30,139.50 L584.20,141.70 L589.30,143.50 L592.20,147.60 L595.00,154.90 L599.90,160.60 L604.80,166.30 L608.80,171.10 L612.10,175.20 L614.50,177.60 L619.40,163.80 L621.80,166.30 L625.10,174.40 L628.30,181.70 L631.60,187.40 L635.00,191.50 L636.50,193.60 L639.80,197.60 L643.00,205.00 L647.10,218.80 L649.50,210.70 L652.80,196.80 L656.00,204.10 L658.50,185.40 L660.90,185.40 L666.60,195.80" stroke="#008000"/>
<path d="M393.60,58.80 L394.99,59.50 L396.38,60.20 L397.77,60.92 L399.16,61.64 L400.54,62.37 L401.93,63.10 L403.32,63.84 L404.71,64.59 L406.10,65.35 L407.49,66.12 L408.88,66.90 L410.27,67.68 L411.65,68.47 L413.04,69.27 L414.43,70.08 L415.82,70.90 L417.21,71.72 L418.60,72.56 L419.99,73.41 L421.38,74.26 L422.77,75.13 L424.15,76.00 L425.54,76.88 L426.93,77.78 L428.32,78.68 L429.71,79.60 L431.10,80.52 L432.49,81.46 L433.88,82.41 L435.27,83.37 L436.65,84.34 L438.04,85.32 L439.43,86.31 L440.82,87.32 L442.21,88.34 L443.60,89.37 L444.99,90.41 L446.38,91.47 L447.76,92.54 L449.15,93.62 L450.54,94.72 L451.93,95.83 L453.32,96.96 L454.71,98.10 L456.10,99.25 L457.49,100.42 L458.88,101.61 L460.26,102.81 L461.65,104.03 L463.04,105.26 L464.43,106.51 L465.82,107.78 L467.21,109.06 L468.60,110.37 L469.99,111.69 L471.37,113.03 L472.76,114.39 L474.15,115.76 L475.54,117.16 L476.93,118.58 L478.32,120.02 L479.71,121.48 L481.10,122.96 L482.49,124.46 L483.87,125.99 L485.26,127.53 L486.65,129.11 L488.04,130.70 L489.43,132.32 L490.82,133.97 L492.21,135.64 L493.60,137.34 L494.99,139.06 L496.37,140.82 L497.76,142.60 L499.15,144.41 L500.54,146.25 L501.93,148.12 L503.32,150.02 L504.71,151.96 L506.10,153.92 L507.48,155.92 L508.87,157.96 L510.26,160.03 L511.65,162.14 L513.04,164.28 L514.43,166.47 L515.82,168.69 L517.21,170.95 L518.60,173.26 L519.98,175.61 L521.37,178.00 L522.76,180.44 L524.15,182.92 L525.54,185.45 L526.93,188.03 L528.32,190.67 L529.71,193.35 L531.10,196.09 L532.48,198.89 L533.87,201.74 L535.26,204.65 L536.65,207.62 L538.04,210.66 L539.43,213.75 L540.82,216.92 L542.21,220.16 L543.59,223.46 L544.98,226.85 L546.37,230.30 L547.76,233.84 L549.15,237.46 L550.54,241.16 L551.93,244.95 L553.32,248.83 L554.71,252.81 L556.09,256.88 L557.48,261.06 L558.87,265.34 L560.26,269.73" stroke="#000" stroke-width="1.35"/>
<path d="M393.60,196.80 H669.30" stroke="#000" stroke-width="1.3" stroke-dasharray="1.56 1.7"/>
</g>
<path d="M393.60,1.40 V269.40 H669.30" stroke="#666" stroke-width="1.2" fill="none"/>
<path d="M391.00,31.20 H393.60 M391.00,86.40 H393.60 M391.00,141.60 H393.60 M391.00,196.80 H393.60 M391.00,252.00 H393.60 M393.60,269.40 V272.20 M448.74,269.40 V272.20 M503.88,269.40 V272.20 M559.02,269.40 V272.20 M614.16,269.40 V272.20 M669.30,269.40 V272.20" stroke="#666" stroke-width="1" fill="none"/>
<g style="font-family:'Liberation Sans',sans-serif;font-size:9.2px" fill="#222">
<text x="388" y="34.50" text-anchor="end">0.6</text>
<text x="388" y="89.70" text-anchor="end">0.4</text>
<text x="388" y="144.90" text-anchor="end">0.2</text>
<text x="388" y="200.10" text-anchor="end">0.0</text>
<text x="388" y="255.30" text-anchor="end">−0.2</text>
<text x="393.60" y="281.2" text-anchor="middle">0.0</text>
<text x="448.74" y="281.2" text-anchor="middle">0.2</text>
<text x="503.88" y="281.2" text-anchor="middle">0.4</text>
<text x="559.02" y="281.2" text-anchor="middle">0.6</text>
<text x="614.16" y="281.2" text-anchor="middle">0.8</text>
<text x="669.30" y="281.2" text-anchor="middle">1.0</text>
</g>
<text x="531.9" y="295.4" text-anchor="middle" style="font-family:'Liberation Serif',serif;font-size:12.25px">Threshold Probability</text>
<text transform="translate(361.8,135.8) rotate(-90)" text-anchor="middle" style="font-family:'Liberation Serif',serif;font-size:12.4px">Net Benefit</text>
<g stroke-width="1.3">
<path d="M526,25 H543.7" stroke="#dc143c"/>
<path d="M526,37.2 H543.7" stroke="#0000ff"/>
<path d="M526,49.5 H543.7" stroke="#00ffff"/>
<path d="M526,62 H543.7" stroke="#008000"/>
</g>
<g style="font-family:'Liberation Serif',serif;font-size:10.35px" fill="#000">
<text x="545.6" y="29">Handcrafted signature</text>
<text x="545.6" y="41.3">Deep learning signature</text>
<text x="545.6" y="53.5">Clinical model</text>
<text x="545.6" y="66">Nomogram model</text>
</g>
</svg>
</body></html>
